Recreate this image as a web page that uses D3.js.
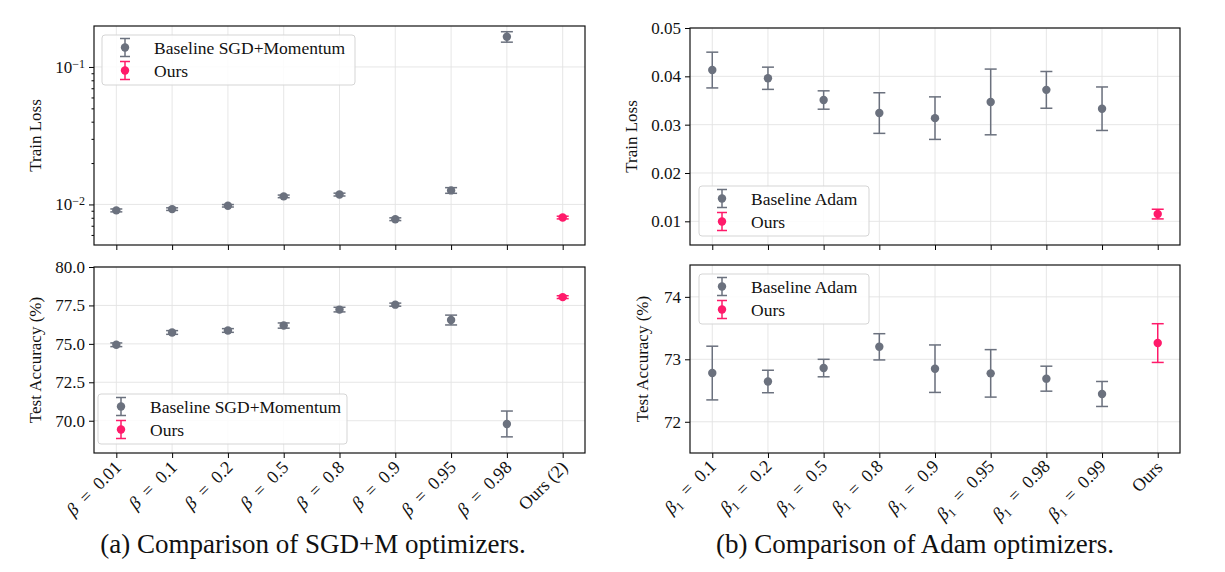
<!DOCTYPE html>
<html>
<head>
<meta charset="utf-8">
<style>
  body { margin: 0; background: #fff; }
  .grid line { stroke: #e3e3e3; stroke-width: 0.9; }
  .frame { fill: none; stroke: #111; stroke-width: 1.2; }
</style>
</head>
<body>
<svg width="1225" height="572"></svg>
<script src="https://d3js.org/d3.v7.min.js"></script>
<script>
// ---- data ----
var sgdBetas = ["0.01", "0.1", "0.2", "0.5", "0.8", "0.9", "0.95", "0.98"];
var sgdOursLabel = "Ours (2)";
var sgdLoss = [0.00905, 0.00925, 0.00978, 0.01145, 0.0118, 0.00781, 0.01265, 0.166, 0.00803];
var sgdLossErr = [0.00022, 0.0002, 0.0002, 0.00025, 0.00028, 0.00018, 0.0006, 0.0145, 0.00018];
var sgdAcc = [74.94, 75.74, 75.87, 76.19, 77.23, 77.55, 76.55, 69.79, 78.04];
var sgdAccErr = [0.12, 0.12, 0.12, 0.17, 0.15, 0.1, 0.32, 0.84, 0.09];

var adamBetas = ["0.1", "0.2", "0.5", "0.8", "0.9", "0.95", "0.98", "0.99"];
var adamOursLabel = "Ours";
var adamLoss = [0.0413, 0.0396, 0.0351, 0.0324, 0.03135, 0.0347, 0.0372, 0.0333, 0.0115];
var adamLossErr = [0.0037, 0.0023, 0.0019, 0.0042, 0.0044, 0.0068, 0.0038, 0.0045, 0.001];
var adamAcc = [72.78, 72.645, 72.86, 73.2, 72.85, 72.775, 72.69, 72.445, 73.26];
var adamAccErr = [0.43, 0.18, 0.14, 0.21, 0.38, 0.38, 0.2, 0.2, 0.31];

var sgdLossTicks = [0.01, 0.1];
var sgdLossMinor = [0.006, 0.007, 0.008, 0.009, 0.02, 0.03, 0.04, 0.05, 0.06, 0.07, 0.08, 0.09];
var sgdAccTicks = [70.0, 72.5, 75.0, 77.5, 80.0];
var adamLossTicks = [0.01, 0.02, 0.03, 0.04, 0.05];
var adamAccTicks = [72, 73, 74];

var baseColor = "#6b717e", oursColor = "#ff1a6a";
var FONT = "'Liberation Serif', 'Times New Roman', serif";

var svg = d3.select("svg").attr("font-family", FONT).style("font-family", FONT);

function drawPanel(p) {
  var n = p.mean.length;
  var x = d3.scaleLinear().domain([-0.4, n - 0.6]).range([p.left, p.right]);
  var y = (p.log ? d3.scaleLog() : d3.scaleLinear()).domain(p.domain).range([p.bottom, p.top]);
  var g = svg.append("g");

  // grid
  var grid = g.append("g").attr("class", "grid");
  grid.selectAll(".gx").data(d3.range(n)).enter().append("line")
    .attr("x1", function(i) { return x(i); }).attr("x2", function(i) { return x(i); })
    .attr("y1", p.top).attr("y2", p.bottom);
  grid.selectAll(".gy").data(p.ticks).enter().append("line")
    .attr("x1", p.left).attr("x2", p.right)
    .attr("y1", function(d) { return y(d); }).attr("y2", function(d) { return y(d); });

  // y axis
  var yAxis = d3.axisLeft(y).tickValues(p.ticks).tickSize(5).tickPadding(4)
    .tickFormat(p.format);
  var ya = g.append("g").attr("transform", "translate(" + p.left + ",0)").call(yAxis)
    .attr("font-family", FONT).attr("font-size", 17);
  ya.select(".domain").remove();
  ya.selectAll("text").style("font-size", "17px");
  if (p.log) {
    ya.selectAll(".tick text").text(null).each(function(d) {
      var t = d3.select(this);
      t.append("tspan").text("10");
      t.append("tspan").attr("dy", "-0.45em").style("font-size", "12px").text("\u2212" + Math.round(-Math.log10(d)));
    });
    g.append("g").attr("transform", "translate(" + p.left + ",0)")
      .call(d3.axisLeft(y).tickValues(p.minor).tickSize(2.5).tickFormat(""))
      .select(".domain").remove();
  }

  // x axis
  var xa = g.append("g").attr("transform", "translate(0," + p.bottom + ")")
    .call(d3.axisBottom(x).tickValues(d3.range(n)).tickSize(5).tickFormat(""))
    .attr("font-family", FONT);
  xa.select(".domain").remove();
  if (p.labels) {
    xa.selectAll(".tick").each(function(i) {
      var t = d3.select(this).append("text")
        .attr("transform", "translate(1,11) rotate(-45)")
        .attr("text-anchor", "end")
        .attr("dy", "0.35em")
        .style("font-size", "18px")
        .style("fill", "#111");
      if (i < p.labels.length) {
        t.append("tspan").style("font-style", "italic").text("\u03b2");
        if (p.sub) t.append("tspan").attr("dy", "0.3em").style("font-size", "12.5px").text("1");
        t.append("tspan").attr("dy", p.sub ? "-0.3em" : null).text("\u2002=\u2002" + p.labels[i]);
      } else {
        t.text(p.oursLabel);
      }
    });
  }

  // frame
  g.append("rect").attr("class", "frame")
    .attr("x", p.left).attr("y", p.top)
    .attr("width", p.right - p.left).attr("height", p.bottom - p.top);

  // y label
  g.append("text")
    .attr("transform", "translate(" + p.ylabelX + "," + ((p.top + p.bottom) / 2) + ") rotate(-90)")
    .attr("text-anchor", "middle")
    .style("font-size", "17px")
    .text(p.ylabel);

  // error bars
  var pts = g.selectAll(".pt").data(d3.range(n)).enter().append("g")
    .style("stroke", function(i) { return i === n - 1 ? oursColor : baseColor; })
    .style("fill", function(i) { return i === n - 1 ? oursColor : baseColor; });
  pts.append("line")
    .attr("x1", function(i) { return x(i); }).attr("x2", function(i) { return x(i); })
    .attr("y1", function(i) { return y(p.mean[i] - p.err[i]); })
    .attr("y2", function(i) { return y(p.mean[i] + p.err[i]); })
    .style("stroke-width", 1.5);
  [-1, 1].forEach(function(s) {
    pts.append("line")
      .attr("x1", function(i) { return x(i) - 6; }).attr("x2", function(i) { return x(i) + 6; })
      .attr("y1", function(i) { return y(p.mean[i] + s * p.err[i]); })
      .attr("y2", function(i) { return y(p.mean[i] + s * p.err[i]); })
      .style("stroke-width", 1.5);
  });
  pts.append("circle")
    .attr("cx", function(i) { return x(i); })
    .attr("cy", function(i) { return y(p.mean[i]); })
    .attr("r", 4.2).style("stroke", "none");

  // legend
  var L = p.legend;
  var lg = g.append("g").attr("transform", "translate(" + L.x + "," + L.y + ")");
  lg.append("rect").attr("width", L.w).attr("height", 50).attr("rx", 3)
    .style("fill", "#fff").style("fill-opacity", 0.85)
    .style("stroke", "#d5d5d5").style("stroke-width", 1);
  [[p.baseName, baseColor], ["Ours", oursColor]].forEach(function(e, k) {
    var cy = 12.5 + k * 23;
    var s = lg.append("g").style("stroke", e[1]).style("fill", e[1]).style("stroke-width", 1.5);
    s.append("line").attr("x1", 23).attr("x2", 23).attr("y1", cy - 9).attr("y2", cy + 9);
    s.append("line").attr("x1", 18).attr("x2", 28).attr("y1", cy - 9).attr("y2", cy - 9);
    s.append("line").attr("x1", 18).attr("x2", 28).attr("y1", cy + 9).attr("y2", cy + 9);
    s.append("circle").attr("cx", 23).attr("cy", cy).attr("r", 4.2).style("stroke", "none");
    lg.append("text").attr("x", 52).attr("y", cy).attr("dy", "0.35em")
      .style("font-size", "17.5px").text(e[0]);
  });
}

drawPanel({
  left: 94, right: 585, top: 26, bottom: 245, log: true,
  domain: [0.00507, 0.1986], ticks: sgdLossTicks, minor: sgdLossMinor,
  mean: sgdLoss, err: sgdLossErr, ylabel: "Train Loss", ylabelX: 41,
  baseName: "Baseline SGD+Momentum",
  legend: { x: 102, y: 35, w: 253 }
});
drawPanel({
  left: 94, right: 585, top: 267, bottom: 453,
  domain: [67.9, 80.0], ticks: sgdAccTicks, format: d3.format(".1f"),
  mean: sgdAcc, err: sgdAccErr, ylabel: "Test Accuracy (%)", ylabelX: 41,
  labels: sgdBetas, oursLabel: sgdOursLabel,
  baseName: "Baseline SGD+Momentum",
  legend: { x: 98, y: 394, w: 249 }
});
drawPanel({
  left: 690, right: 1180, top: 28, bottom: 245,
  domain: [0.0051, 0.05], ticks: adamLossTicks, format: d3.format(".2f"),
  mean: adamLoss, err: adamLossErr, ylabel: "Train Loss", ylabelX: 637,
  baseName: "Baseline Adam",
  legend: { x: 699, y: 186, w: 170 }
});
drawPanel({
  left: 690, right: 1180, top: 265, bottom: 453,
  domain: [71.5, 74.51], ticks: adamAccTicks, format: d3.format("d"),
  mean: adamAcc, err: adamAccErr, ylabel: "Test Accuracy (%)", ylabelX: 648,
  labels: adamBetas, oursLabel: adamOursLabel, sub: true,
  baseName: "Baseline Adam",
  legend: { x: 699, y: 274, w: 170 }
});

// captions
svg.append("text").attr("x", 313).attr("y", 553).attr("text-anchor", "middle")
  .style("font-size", "27px").text("(a) Comparison of SGD+M optimizers.");
svg.append("text").attr("x", 915).attr("y", 553).attr("text-anchor", "middle")
  .style("font-size", "27px").text("(b) Comparison of Adam optimizers.");

svg.selectAll("text").attr("font-family", FONT).style("font-family", FONT).style("fill", "#111");
</script>
</body>
</html>
